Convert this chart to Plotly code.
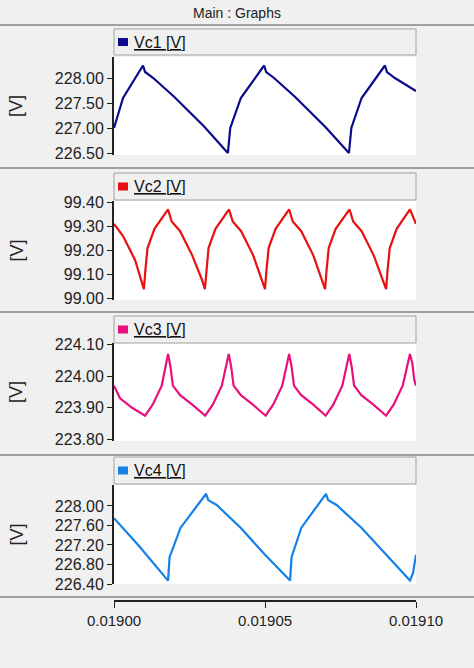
import plotly.graph_objects as go

# data (time in s, voltage in V)

t_vc1 = [0.0190000, 0.0190030, 0.0190096, 0.0190103, 0.0190130, 0.0190200, 0.0190300, 0.0190377,
         0.0190385, 0.0190420, 0.0190497, 0.0190504, 0.0190530, 0.0190600, 0.0190700, 0.0190778,
         0.0190786, 0.0190820, 0.0190897, 0.0190904, 0.0190930, 0.0191000]
v_vc1 = [227.00, 227.60, 228.25, 228.12, 228.00, 227.62, 227.02, 226.50,
         227.00, 227.60, 228.25, 228.12, 228.00, 227.62, 227.02, 226.50,
         227.00, 227.60, 228.25, 228.12, 228.00, 227.74]

t_vc2 = [0.0190000, 0.0190030, 0.0190070, 0.0190090, 0.0190099, 0.0190104, 0.0190111, 0.0190134, 0.0190179,
         0.0190191, 0.0190219, 0.0190259, 0.0190291, 0.0190301, 0.0190306, 0.0190313, 0.0190336, 0.0190381,
         0.0190393, 0.0190421, 0.0190461, 0.0190490, 0.0190500, 0.0190505, 0.0190512, 0.0190535, 0.0190580,
         0.0190592, 0.0190620, 0.0190660, 0.0190689, 0.0190699, 0.0190704, 0.0190711, 0.0190734, 0.0190780,
         0.0190792, 0.0190820, 0.0190860, 0.0190891, 0.0190901, 0.0190906, 0.0190913, 0.0190936, 0.0190980,
         0.0191000]
v_vc2 = [99.31, 99.26, 99.16, 99.08, 99.04, 99.12, 99.21, 99.29, 99.37,
         99.32, 99.28, 99.18, 99.08, 99.04, 99.12, 99.21, 99.29, 99.37,
         99.32, 99.28, 99.18, 99.08, 99.04, 99.12, 99.21, 99.29, 99.37,
         99.32, 99.28, 99.18, 99.08, 99.04, 99.12, 99.21, 99.29, 99.37,
         99.32, 99.28, 99.18, 99.08, 99.04, 99.12, 99.21, 99.29, 99.37,
         99.31]

t_vc3 = [0.0190000, 0.0190020, 0.0190060, 0.0190103, 0.0190128, 0.0190158, 0.0190179,
         0.0190187, 0.0190195, 0.0190219, 0.0190259, 0.0190302, 0.0190327, 0.0190357, 0.0190380,
         0.0190388, 0.0190396, 0.0190420, 0.0190460, 0.0190502, 0.0190527, 0.0190557, 0.0190580,
         0.0190588, 0.0190596, 0.0190620, 0.0190660, 0.0190701, 0.0190726, 0.0190756, 0.0190779,
         0.0190787, 0.0190795, 0.0190819, 0.0190859, 0.0190901, 0.0190926, 0.0190956, 0.0190980,
         0.0190988, 0.0190994, 0.0191000]
v_vc3 = [223.97, 223.93, 223.90, 223.875, 223.91, 223.97, 224.07,
         224.03, 223.97, 223.94, 223.91, 223.875, 223.91, 223.97, 224.07,
         224.03, 223.97, 223.94, 223.91, 223.875, 223.91, 223.97, 224.07,
         224.03, 223.97, 223.94, 223.91, 223.875, 223.91, 223.97, 224.07,
         224.03, 223.97, 223.94, 223.91, 223.875, 223.91, 223.97, 224.07,
         224.04, 223.99, 223.97]

t_vc4 = [0.0190000, 0.0190080, 0.0190179, 0.0190184, 0.0190220, 0.0190305, 0.0190312, 0.0190340,
         0.0190420, 0.0190500, 0.0190583, 0.0190588, 0.0190620, 0.0190702, 0.0190709, 0.0190737,
         0.0190820, 0.0190900, 0.0190980, 0.0190990, 0.0191000]
v_vc4 = [227.75, 227.20, 226.47, 226.95, 227.55, 228.25, 228.12, 228.02,
         227.55, 227.00, 226.47, 226.95, 227.55, 228.25, 228.12, 228.02,
         227.55, 227.00, 226.47, 226.62, 227.00]

names = ['Vc1 [V]', 'Vc2 [V]', 'Vc3 [V]', 'Vc4 [V]']
colors = ['#0a0a8c', '#e81010', '#e8107a', '#1480e8']
y_ranges = [[226.46, 228.42], [98.995, 99.405], [223.795, 224.105], [226.40, 228.43]]
y_ticks = [[226.5, 227.0, 227.5, 228.0], [99.0, 99.1, 99.2, 99.3, 99.4],
           [223.8, 223.9, 224.0, 224.1], [226.4, 226.8, 227.2, 227.6, 228.0]]
x_ticks = [0.0190, 0.01905, 0.0191]

# pixel layout of the panels (top, bottom of plot area, top of legend strip)
W, H = 474, 668
plot_px = [(57, 155), (201, 300), (343, 441), (485, 584)]
legend_px = [(29, 55), (173, 200), (316, 343), (457, 484)]
sep_px = [25, 168, 312, 455, 597]

def py(p):
    return 1 - p / H

x_dom = [114 / W, 416 / W]

fig = go.Figure()
series = [(t_vc1, v_vc1), (t_vc2, v_vc2), (t_vc3, v_vc3), (t_vc4, v_vc4)]
for i, (t, v) in enumerate(series):
    n = '' if i == 0 else str(i + 1)
    fig.add_trace(go.Scatter(x=t, y=v, mode='lines', line=dict(color=colors[i], width=2.2),
                             xaxis='x' + n, yaxis='y' + n, showlegend=False))

font = dict(family='Liberation Sans, Arial', size=16, color='#222')
layout = dict(width=W, height=H, margin=dict(l=0, r=0, t=0, b=0, pad=0, autoexpand=False),
              paper_bgcolor='#f0f0f0', plot_bgcolor='white', showlegend=False)

shapes, annotations = [], []
for i in range(4):
    n = '' if i == 0 else str(i + 1)
    top, bot = plot_px[i]
    last = i == 3
    xa = dict(domain=x_dom, range=[0.0190, 0.0191], anchor='y' + n, showgrid=False, automargin=False,
              zeroline=False, showticklabels=False, ticks='', showline=False)
    if last:
        xa.update(anchor='free', position=py(601), showticklabels=True, tickvals=x_ticks,
                  ticktext=['0.01900', '0.01905', '0.01910'], ticks='outside', ticklen=6,
                  tickcolor='#222', showline=True, linecolor='#222', linewidth=2,
                  tickfont=dict(family='Liberation Sans, Arial', size=15, color='#222'))
    layout['xaxis' + n] = xa
    layout['yaxis' + n] = dict(domain=[py(bot), py(top)], range=y_ranges[i], anchor='x' + n,
                               tickvals=y_ticks[i], tickformat='.2f', ticks='outside', ticklen=5,
                               tickcolor='#222', showline=True, linecolor='#222', linewidth=2,
                               showgrid=False, zeroline=False, tickfont=font, automargin=False)
    lt, lb = legend_px[i]
    shapes.append(dict(type='rect', xref='paper', yref='paper', x0=x_dom[0], x1=x_dom[1],
                       y0=py(lb), y1=py(lt), fillcolor='#f0f0f0', line=dict(color='#a0a0a0', width=1),
                       layer='below'))
    shapes.append(dict(type='rect', xref='paper', yref='paper', x0=118 / W, x1=128 / W,
                       y0=py((lt + lb) / 2 + 4), y1=py((lt + lb) / 2 - 4), fillcolor=colors[i],
                       line=dict(width=0)))
    annotations.append(dict(text='<u>' + names[i] + '</u>', xref='paper', yref='paper', x=132 / W,
                            y=py((lt + lb) / 2), xanchor='left', yanchor='middle', showarrow=False,
                            font=dict(family='Liberation Sans, Arial', size=16, color='#111')))
    annotations.append(dict(text='[V]', xref='paper', yref='paper', x=16 / W, y=py((top + bot) / 2),
                            textangle=-90, xanchor='center', yanchor='middle', showarrow=False,
                            font=dict(family='Liberation Sans, Arial', size=18, color='#222')))

for s in sep_px:
    shapes.append(dict(type='line', xref='paper', yref='paper', x0=0, x1=1, y0=py(s), y1=py(s),
                       line=dict(color='#a0a0a0', width=2)))
annotations.append(dict(text='Main : Graphs', xref='paper', yref='paper', x=0.5, y=py(13),
                        xanchor='center', yanchor='middle', showarrow=False,
                        font=dict(family='Liberation Sans, Arial', size=14, color='#222')))

layout['shapes'] = shapes
layout['annotations'] = annotations
fig.update_layout(**layout)
fig.write_html('out.html', config={'displayModeBar': False},
               post_script="document.body.style.margin='0';")
